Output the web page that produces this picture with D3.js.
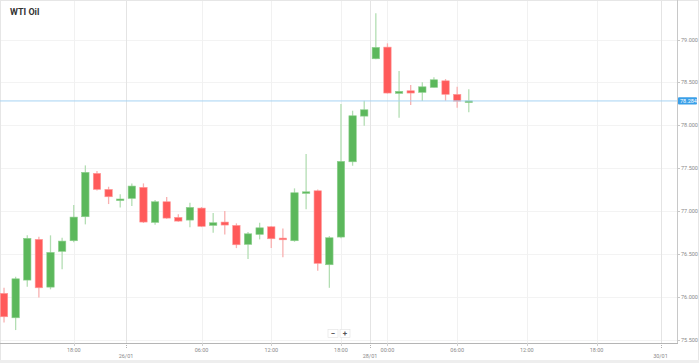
<!DOCTYPE html>
<html>
<head>
<meta charset="utf-8">
<script src="https://cdn.jsdelivr.net/npm/d3@7"></script>
<style>
  html, body { margin: 0; padding: 0; background: #fff; }
  svg { display: block; font-family: Roboto, "Noto Sans", sans-serif; }
</style>
</head>
<body>
<svg width="699" height="363"></svg>
<script>
// hourly candles, WTI Oil
const opens  = [76.039, 75.754, 76.194, 76.669, 76.112, 76.529, 76.653, 76.933, 77.439, 77.252,
                77.132, 77.147, 77.276, 76.867, 77.108, 76.926, 76.894, 77.034, 76.832, 76.871,
                76.832, 76.611, 76.727, 76.816, 76.684, 76.653, 77.206, 77.236, 76.373, 76.696,
                77.574, 78.107, 78.776, 78.912, 78.372, 78.403, 78.384, 78.442, 78.519, 78.361,
                78.282];
const highs  = [76.104, 76.233, 76.716, 76.699, 76.716, 76.688, 77.069, 77.532, 77.466, 77.283,
                77.194, 77.322, 77.322, 77.127, 77.162, 76.961, 77.096, 77.046, 76.976, 76.999,
                76.856, 76.754, 76.863, 76.824, 76.797, 77.264, 77.664, 77.252, 76.707, 78.247,
                78.170, 78.286, 79.306, 78.956, 78.632, 78.469, 78.501, 78.559, 78.539, 78.449,
                78.419];
const lows   = [75.700, 75.611, 76.116, 75.992, 76.086, 76.319, 76.634, 76.844, 77.240, 77.081,
                77.042, 77.057, 76.860, 76.839, 76.910, 76.875, 76.809, 76.812, 76.746, 76.727,
                76.567, 76.439, 76.669, 76.567, 76.459, 76.641, 77.019, 76.303, 76.104, 76.681,
                77.528, 77.994, 78.770, 78.370, 78.088, 78.236, 78.282, 78.440, 78.286, 78.204,
                78.151];
const closes = [75.766, 76.209, 76.681, 76.104, 76.517, 76.649, 76.929, 77.451, 77.252, 77.166,
                77.140, 77.291, 76.871, 77.108, 76.917, 76.882, 77.042, 76.821, 76.863, 76.836,
                76.606, 76.734, 76.804, 76.676, 76.664, 77.213, 77.224, 76.389, 76.688, 77.579,
                78.111, 78.181, 78.909, 78.376, 78.396, 78.376, 78.449, 78.531, 78.361, 78.282,
                78.284];

const priceTicks = [75.5, 76, 76.5, 77, 77.5, 78, 78.5, 79];
const timeTickPos = [6, 17, 23, 29, 33, 39, 45, 51];
const timeTickLabels = ['18:00', '06:00', '12:00', '18:00', '00:00', '06:00', '12:00', '18:00'];
const dateTickPos = [10.5, 31.5, 56.5];
const dateTickLabels = ['26/01', '28/01', '30/01'];
const lastPrice = 78.284;

const svg = d3.select('svg');
const plotLeft = 1, plotRight = 677, plotTop = 1, plotBottom = 343;

const x = d3.scaleLinear().domain([-0.26, 57.92]).range([plotLeft, plotRight]);
const y = d3.scaleLinear().domain([75.46, 79.45]).range([plotBottom, plotTop]);

const candles = opens.map((o, i) => ({
  i, open: o, high: highs[i], low: lows[i], close: closes[i], up: closes[i] >= o
}));

// frame
svg.append('rect').attr('x', 0.5).attr('y', 0.5).attr('width', 698).attr('height', 362)
  .attr('fill', '#fff').attr('stroke', '#e6e6e6');
svg.append('rect').attr('x', 0).attr('y', 360).attr('width', 699).attr('height', 3).attr('fill', '#eeeeee');

// grid
const grid = svg.append('g');
grid.selectAll('line.h').data(priceTicks).join('line')
  .attr('x1', plotLeft).attr('x2', plotRight)
  .attr('y1', d => Math.round(y(d)) + 0.5).attr('y2', d => Math.round(y(d)) + 0.5)
  .attr('stroke', '#f3f3f3');
grid.selectAll('line.t').data(timeTickPos).join('line')
  .attr('x1', d => Math.round(x(d)) + 0.5).attr('x2', d => Math.round(x(d)) + 0.5)
  .attr('y1', plotTop).attr('y2', plotBottom)
  .attr('stroke', '#f1f1f1');
grid.selectAll('line.d').data(dateTickPos).join('line')
  .attr('x1', d => Math.round(x(d)) + 0.5).attr('x2', d => Math.round(x(d)) + 0.5)
  .attr('y1', plotTop).attr('y2', plotBottom)
  .attr('stroke', '#e4e4e4');

// axes lines
svg.append('line').attr('x1', plotRight + 0.5).attr('x2', plotRight + 0.5).attr('y1', 0).attr('y2', plotBottom)
  .attr('stroke', '#c8c8c8');
svg.append('line').attr('x1', 0).attr('x2', plotRight + 1).attr('y1', plotBottom + 0.5).attr('y2', plotBottom + 0.5)
  .attr('stroke', '#b5b5b5');

// right price axis
const yAxis = svg.append('g');
yAxis.selectAll('line').data(priceTicks).join('line')
  .attr('x1', plotRight).attr('x2', plotRight + 3)
  .attr('y1', d => Math.round(y(d)) + 0.5).attr('y2', d => Math.round(y(d)) + 0.5)
  .attr('stroke', '#c8c8c8');
yAxis.selectAll('text').data(priceTicks).join('text')
  .attr('x', plotRight + 4).attr('y', d => y(d) + 2)
  .attr('font-size', 5.5).attr('fill', '#8a8a8a')
  .text(d => d3.format('.3f')(d));

// bottom time axis
const xAxis = svg.append('g');
xAxis.selectAll('line.t').data(timeTickPos).join('line')
  .attr('x1', d => Math.round(x(d)) + 0.5).attr('x2', d => Math.round(x(d)) + 0.5)
  .attr('y1', plotBottom).attr('y2', plotBottom + 3).attr('stroke', '#cfcfcf');
xAxis.selectAll('text.t').data(timeTickPos).join('text')
  .attr('x', d => x(d)).attr('y', 351.5).attr('text-anchor', 'middle')
  .attr('font-size', 5.5).attr('fill', '#8a8a8a')
  .text((d, i) => timeTickLabels[i]);
xAxis.selectAll('line.d').data(dateTickPos).join('line')
  .attr('x1', d => Math.round(x(d)) + 0.5).attr('x2', d => Math.round(x(d)) + 0.5)
  .attr('y1', plotBottom).attr('y2', plotBottom + 6).attr('stroke', '#b0b0b0')
  .attr('stroke-dasharray', '1,1');
xAxis.selectAll('text.d').data(dateTickPos).join('text')
  .attr('x', d => x(d)).attr('y', 357.5).attr('text-anchor', 'middle')
  .attr('font-size', 5.5).attr('fill', '#8a8a8a')
  .text((d, i) => dateTickLabels[i]);

// candles
const bodyW = 7.4;
const g = svg.append('g');
g.selectAll('line.wick').data(candles).join('line')
  .attr('x1', d => x(d.i)).attr('x2', d => x(d.i))
  .attr('y1', d => y(d.high)).attr('y2', d => y(d.low))
  .attr('stroke', d => d.up ? '#b3deb3' : '#f8b0b0')
  .attr('stroke-width', 1.3);
g.selectAll('rect.body').data(candles).join('rect')
  .attr('x', d => x(d.i) - bodyW / 2)
  .attr('width', bodyW)
  .attr('y', d => y(Math.max(d.open, d.close)))
  .attr('height', d => Math.max(1.6, Math.abs(y(d.open) - y(d.close))))
  .attr('fill', d => d.up ? '#5cb85c' : '#ff5a5a')
  .attr('stroke', d => d.up ? '#8fd08f' : '#ff9a9a')
  .attr('stroke-width', 0.6);

// last price line and label
svg.append('line').attr('x1', 0).attr('x2', plotRight)
  .attr('y1', y(lastPrice)).attr('y2', y(lastPrice))
  .attr('stroke', '#a6d3f3').attr('stroke-width', 1);
svg.append('rect').attr('x', plotRight + 1).attr('y', y(lastPrice) - 3.6)
  .attr('width', 19).attr('height', 7.2).attr('rx', 1)
  .attr('fill', '#3a9fe8');
svg.append('text').attr('x', plotRight + 3).attr('y', y(lastPrice) + 2)
  .attr('font-size', 5.5).attr('fill', '#fff')
  .text(d3.format('.3f')(lastPrice));

// title
svg.append('text').attr('x', 10).attr('y', 15)
  .attr('font-size', 9).attr('font-weight', 'bold').attr('fill', '#333')
  .text('WTI Oil');

// zoom buttons
const zb = svg.append('g');
[['−', 328], ['+', 340]].forEach(([t, bx]) => {
  zb.append('rect').attr('x', bx).attr('y', 329.5).attr('width', 10).attr('height', 8)
    .attr('fill', '#fff').attr('stroke', '#e2e2e2').attr('stroke-width', 0.6);
  zb.append('text').attr('x', bx + 5).attr('y', 336).attr('text-anchor', 'middle')
    .attr('font-size', 8).attr('font-weight', 'bold').attr('fill', '#555').text(t);
});
</script>
</body>
</html>
